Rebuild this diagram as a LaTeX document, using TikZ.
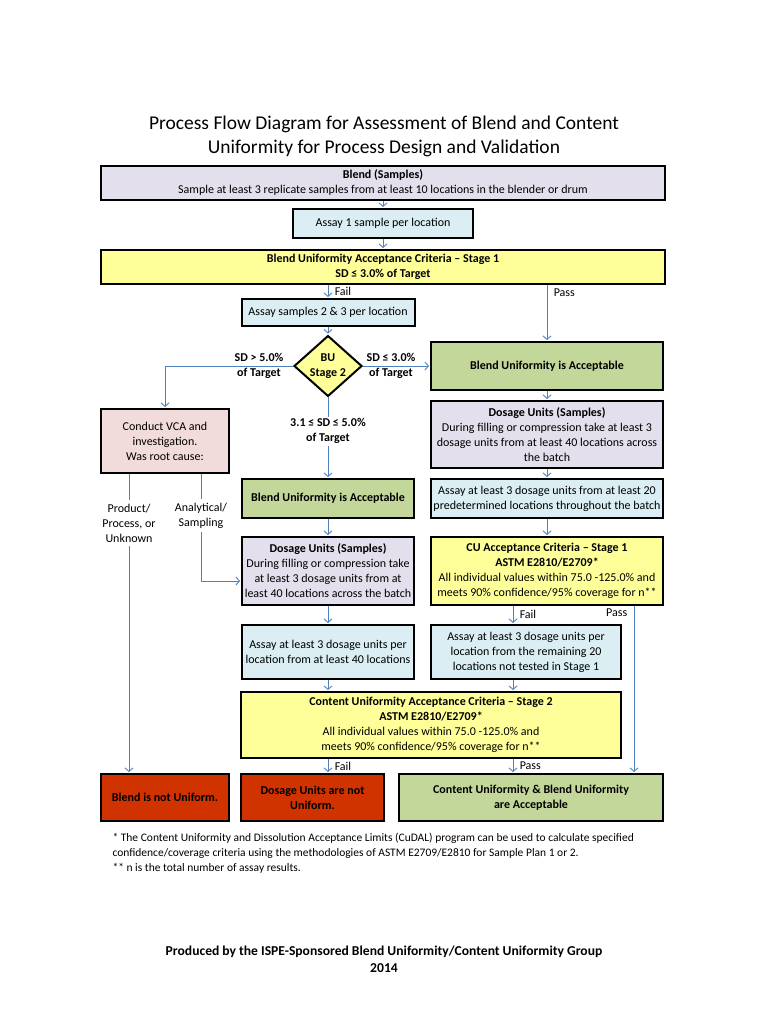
\documentclass[tikz,border=0pt]{standalone}
\usepackage{fontspec}
\setmainfont{Carlito}
\usetikzlibrary{shapes.geometric,arrows.meta}
\definecolor{lilac}{HTML}{E4DFEC}
\definecolor{iceblue}{HTML}{DAEEF3}
\definecolor{lemon}{HTML}{FFFF99}
\definecolor{sage}{HTML}{C4D79B}
\definecolor{blush}{HTML}{F2DCDB}
\definecolor{brick}{RGB}{208,50,0}
\definecolor{link}{HTML}{4F81BD}

\begin{document}
\begin{tikzpicture}[x=1pt, y=-1pt, font=\fontsize{12}{15}\selectfont,
  main/.style = {draw, line width=2pt, align=center, inner sep=0pt},
  flow/.style = {draw=link, line width=0.9pt, shorten >=1pt, -{Straight Barb[length=3.5pt,width=8pt]}},
  wire/.style = {draw=link, line width=0.9pt},
  lbl/.style = {align=center, inner sep=2pt},
  bold/.style = {font=\fontsize{12}{15}\selectfont\bfseries}]
	\useasboundingbox (0,0) rectangle (768,1024);
	\node[align=center, font=\fontsize{19.5}{24}\selectfont] (t) at (384,136) {Process Flow Diagram for Assessment of Blend and Content\\Uniformity for Process Design and Validation};
	\coordinate (c4) at (513,0);
	\coordinate (c6) at (634,0);
	\node[main, fill=lilac, minimum width=564pt, minimum height=34pt] (1) at (383,183) {\textbf{Blend (Samples)}\\Sample at least 3 replicate samples from at least 10 locations in the blender or drum};
	\node[main, fill=iceblue, minimum width=180pt, minimum height=29pt] (2) at (383,223.5) {Assay 1 sample per location};
	\node[main, fill=lemon, minimum width=564pt, minimum height=34pt, bold] (3) at (383,267) {Blend Uniformity Acceptance Criteria -- Stage 1\\SD ≤ 3.0\% of Target};
	\node[main, fill=iceblue, minimum width=173pt, minimum height=27pt] (4) at (328,312.5) {Assay samples 2 \& 3 per location};
	\node[main, diamond, fill=lemon, minimum width=68pt, minimum height=55pt, bold] (5) at (328,366) {BU\\Stage 2};
	\node[main, fill=blush, minimum width=128pt, minimum height=64pt] (6) at (165,441) {Conduct VCA and\\investigation.\\Was root cause:};
	\node[main, fill=sage, minimum width=232pt, minimum height=48pt, bold] (7) at (547,366) {Blend Uniformity is Acceptable};
	\node[main, fill=lilac, minimum width=232pt, minimum height=67pt] (8) at (547,434.5) {\textbf{Dosage Units (Samples)}\\During filling or compression take at least 3\\dosage units from at least 40 locations across\\the batch};
	\node[main, fill=iceblue, minimum width=232pt, minimum height=39pt] (9) at (547,498.5) {Assay at least 3 dosage units from at least 20\\predetermined locations throughout the batch};
	\node[main, fill=lemon, minimum width=232pt, minimum height=68pt] (10) at (547,571) {\textbf{CU Acceptance Criteria -- Stage 1}\\\textbf{ASTM E2810/E2709*}\\All individual values within 75.0 -125.0\% and\\meets 90\% confidence/95\% coverage for n**};
	\node[main, fill=iceblue, minimum width=190pt, minimum height=54pt] (11) at (526,652) {Assay at least 3 dosage units per\\location from the remaining 20\\locations not tested in Stage 1};
	\node[main, fill=sage, minimum width=172pt, minimum height=39pt, bold] (12) at (328,498.5) {Blend Uniformity is Acceptable};
	\node[main, fill=lilac, minimum width=172pt, minimum height=68pt] (13) at (328,571) {\textbf{Dosage Units (Samples)}\\During filling or compression take\\at least 3 dosage units from at\\least 40 locations across the batch};
	\node[main, fill=iceblue, minimum width=172pt, minimum height=54pt] (14) at (328,652) {Assay at least 3 dosage units per\\location from at least 40 locations};
	\node[main, fill=lemon, minimum width=380pt, minimum height=66pt] (15) at (431,725) {\textbf{Content Uniformity Acceptance Criteria -- Stage 2}\\\textbf{ASTM E2810/E2709*}\\All individual values within 75.0 -125.0\% and\\meets 90\% confidence/95\% coverage for n**};
	\node[main, fill=brick, minimum width=128pt, minimum height=47pt, bold] (16) at (165,797.5) {Blend is not Uniform.};
	\node[main, fill=brick, minimum width=143pt, minimum height=47pt, bold] (17) at (312.5,797.5) {Dosage Units are not\\Uniform.};
	\node[main, fill=sage, minimum width=264pt, minimum height=47pt, bold] (18) at (531,797.5) {Content Uniformity \& Blend Uniformity\\are Acceptable};
	\node[lbl, inner sep=4pt] (20) at (129,523) {Product/\\Process, or\\Unknown};
	\node[lbl, inner sep=4pt] (21) at (201,515.5) {Analytical/\\Sampling};
	\node[lbl, bold] (22) at (259,366) {SD > 5.0\%\\of Target};
	\node[lbl, bold] (23) at (391,366) {SD ≤ 3.0\%\\of Target};
	\draw[flow] (1) -- (2);
	\draw[flow] (2) -- (3);
	\draw[flow] (3.south -| 4.north) -- node[right=3pt]{Fail} (4.north);
	\draw[flow] (3.south -| 7.north) -- node[right=3pt, pos=0.14]{Pass} (7.north);
	\draw[flow] (4) -- (5);
	\draw[flow] (5.west) -| (6.north);
	\draw[flow] (5.east) -- (7.west);
	\draw[flow] (5.south) -- node[lbl, fill=white, pos=0.42, bold]{3.1 ≤ SD ≤ 5.0\%\\of Target} (12.north);
	\draw[flow] (7) -- (8);
	\draw[flow] (8) -- (9);
	\draw[flow] (9) -- (10);
	\draw[flow] (10.south -| c4) -- node[right=3pt, pos=0.45]{Fail} (11.north -| c4);
	\draw[flow] (10.south -| c6) -- node[left=3pt, pos=0.04]{Pass} (18.north -| c6);
	\draw[flow] (12) -- (13);
	\draw[flow] (13) -- (14);
	\draw[flow] (14.south) -- (15.north -| 14.south);
	\draw[flow] (11.south -| c4) -- (15.north -| c4);
	\draw[flow] (15.south -| 14.south) -- node[right=3pt]{Fail} (17.north -| 14.south);
	\draw[flow] (15.south -| c4) -- node[right=3pt]{Pass} (18.north -| c4);
	\draw[wire] (6.south -| 20) -- (20.north);
	\draw[flow] (20.south) -- (20.south |- 16.north);
	\draw[wire] (6.south -| 21) -- (21.north);
	\draw[flow] (21.south) |- ([yshift=-10pt]13.west);
	\node[align=left, anchor=west, font=\fontsize{11.5}{15}\selectfont] (24) at (109,853) {* The Content Uniformity and Dissolution Acceptance Limits (CuDAL) program can be used to calculate specified\\confidence/coverage criteria using the methodologies of ASTM E2709/E2810 for Sample Plan 1 or 2.\\** n is the total number of assay results.};
	\node[align=center, font=\fontsize{13.6}{17}\selectfont\bfseries] (25) at (384,959.5) {Produced by the ISPE-Sponsored Blend Uniformity/Content Uniformity Group\\2014};
\end{tikzpicture}
\end{document}
